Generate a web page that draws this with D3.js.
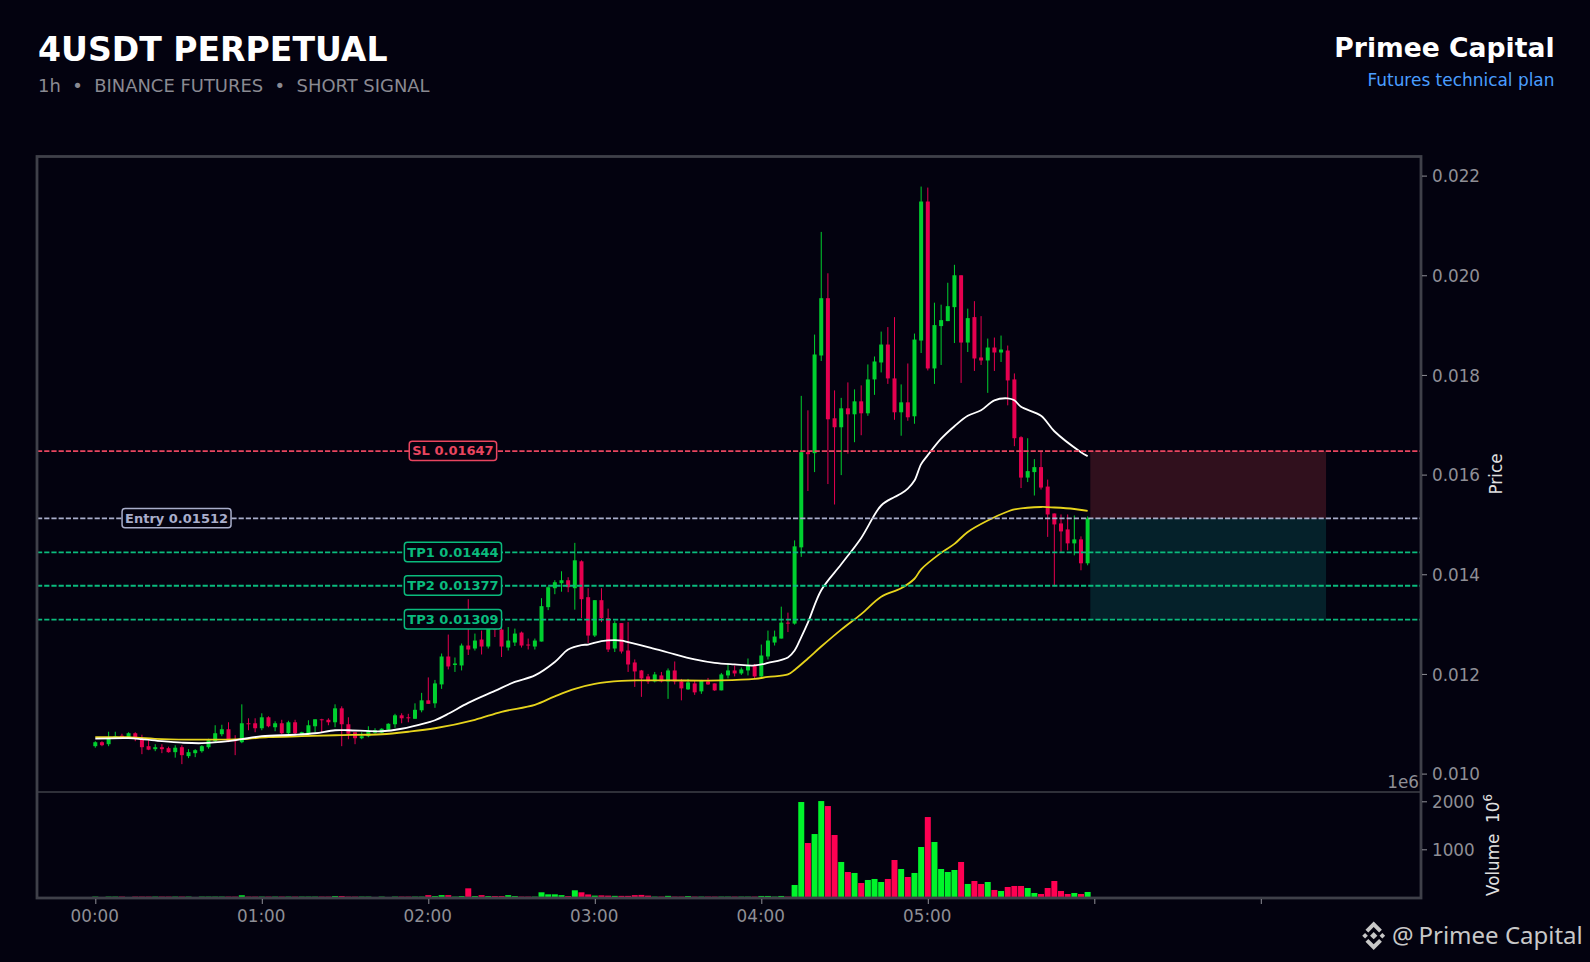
<!DOCTYPE html>
<html>
<head>
<meta charset="utf-8">
<script src="https://cdn.jsdelivr.net/npm/d3@7"></script>
<style>
  html, body { margin: 0; padding: 0; background: #03020f; }
  svg { display: block; }
  text { font-family: "DejaVu Sans", sans-serif; }
</style>
</head>
<body>
<div id="plot"></div>
<script>
// prices are kept in thousandths of USDT, the axis formats them back
var opens = [10.55,10.63,10.59,10.70,10.76,10.73,10.81,10.70,10.55,10.49,
  10.53,10.51,10.43,10.53,10.35,10.41,10.45,10.53,10.65,10.79,
  10.89,10.67,10.63,11.01,11.01,10.91,11.13,10.93,11.01,10.81,
  11.03,10.79,10.79,10.95,11.09,11.08,11.03,11.31,10.99,10.83,
  10.71,10.75,10.82,10.82,10.88,10.99,11.17,11.13,11.10,11.27,
  11.47,11.41,11.79,12.35,12.18,12.17,12.57,12.51,12.69,12.55,
  12.97,12.89,12.53,12.63,12.83,12.59,12.55,12.65,13.34,13.72,
  13.82,13.88,13.72,14.26,13.54,12.77,13.48,13.12,12.51,13.02,
  12.47,12.23,12.07,11.95,11.85,11.97,11.85,12.07,11.85,11.69,
  11.81,11.65,11.85,11.81,11.67,11.97,12.07,12.01,12.07,12.17,
  11.95,12.35,12.63,12.71,13.03,13.01,14.54,16.45,16.43,18.39,
  19.54,17.13,16.95,17.33,17.21,17.47,17.23,17.91,18.25,18.61,
  17.93,17.25,17.45,17.17,18.69,21.48,18.13,18.98,19.08,19.36,
  20.00,18.65,19.16,18.35,18.29,18.55,18.45,18.49,17.91,16.75,
  15.94,16.05,16.15,15.76,15.22,15.02,14.90,14.62,14.70,14.22];

var highs = [10.65,10.65,10.84,10.84,10.80,10.83,10.83,10.78,10.67,10.59,
  10.59,10.54,10.57,10.57,10.49,10.49,10.57,10.70,10.97,10.98,
  11.03,10.77,11.39,11.11,11.11,11.21,11.15,11.05,11.08,11.06,
  11.08,10.84,11.07,11.09,11.10,11.11,11.39,11.35,11.13,10.83,
  10.83,10.95,10.91,10.91,11.01,11.20,11.21,11.20,11.41,11.62,
  11.93,11.88,12.41,12.79,12.33,12.61,13.50,12.81,12.87,13.08,
  13.04,13.01,12.94,12.91,12.85,12.71,12.71,13.52,13.76,13.88,
  14.06,13.94,14.63,14.28,13.72,13.48,13.72,13.31,13.06,13.02,
  13.04,12.29,12.08,12.00,12.04,12.04,12.11,12.25,11.90,11.90,
  11.87,11.88,11.92,11.81,12.02,12.22,12.17,12.13,12.31,12.20,
  12.59,12.87,12.87,13.35,13.23,14.68,17.58,17.29,18.81,20.87,
  20.04,17.69,17.54,17.85,17.71,17.79,18.21,18.37,18.87,18.96,
  19.16,17.81,18.23,18.83,21.78,21.76,19.45,19.41,19.85,20.21,
  20.00,19.33,19.48,19.18,18.73,18.75,18.79,18.59,18.03,16.77,
  16.73,16.31,16.47,15.90,15.22,15.20,15.20,15.18,14.76,15.16];

var lows = [10.52,10.55,10.55,10.70,10.70,10.70,10.65,10.39,10.47,10.45,
  10.41,10.42,10.32,10.19,10.31,10.33,10.42,10.50,10.63,10.75,
  10.63,10.37,10.61,10.87,10.83,10.87,10.93,10.85,10.79,10.77,
  10.79,10.77,10.77,10.83,10.83,10.97,10.93,10.55,10.69,10.59,
  10.69,10.73,10.80,10.81,10.87,10.92,11.01,11.03,11.10,11.23,
  11.40,11.32,11.70,12.09,12.04,12.07,12.38,12.47,12.39,12.51,
  12.74,12.34,12.47,12.56,12.53,12.49,12.49,12.65,13.28,13.60,
  13.65,13.64,13.29,13.12,12.62,12.74,13.04,12.44,12.44,12.41,
  12.04,11.74,11.54,11.80,11.83,11.83,11.50,11.79,11.47,11.68,
  11.58,11.60,11.78,11.66,11.67,11.91,11.95,11.98,11.97,11.91,
  11.91,12.29,12.57,12.71,12.84,12.99,14.35,15.67,16.05,18.28,
  15.81,15.40,15.99,16.42,16.65,16.79,17.18,17.60,18.05,17.82,
  17.10,16.78,17.08,17.02,18.44,18.09,17.82,18.20,19.08,18.64,
  17.84,18.46,18.08,18.20,17.64,18.08,18.26,17.39,16.57,15.73,
  15.85,15.58,15.70,14.75,13.76,14.44,14.48,14.38,14.08,14.18];

var closes = [10.63,10.57,10.70,10.75,10.71,10.81,10.73,10.53,10.48,10.53,
  10.49,10.43,10.52,10.37,10.43,10.47,10.55,10.67,10.81,10.89,
  10.65,10.65,11.01,10.99,10.91,11.13,10.95,11.01,10.81,11.03,
  10.81,10.83,10.97,11.09,11.07,11.03,11.31,10.99,10.80,10.71,
  10.75,10.86,10.87,10.90,11.00,11.17,11.11,11.11,11.28,11.47,
  11.40,11.81,12.35,12.15,12.21,12.57,12.49,12.67,12.55,12.94,
  12.89,12.55,12.67,12.81,12.57,12.57,12.67,13.36,13.74,13.84,
  13.88,13.74,14.28,13.50,12.77,13.48,13.12,12.49,13.02,12.45,
  12.19,12.05,11.91,11.85,11.99,11.85,12.07,11.85,11.71,11.83,
  11.63,11.86,11.79,11.67,11.99,12.07,12.01,12.09,12.17,11.95,
  12.37,12.67,12.75,13.03,13.01,14.56,16.45,16.41,18.41,19.54,
  17.11,16.95,17.33,17.21,17.47,17.23,17.91,18.27,18.61,17.93,
  17.25,17.45,17.15,18.71,21.48,18.13,19.00,19.10,19.38,20.00,
  18.65,19.14,18.33,18.29,18.55,18.45,18.51,17.89,16.73,15.94,
  16.07,16.15,15.74,15.20,15.00,14.86,14.62,14.70,14.22,15.12];

// volume, in millions
var volumes = [14,5,14,14,14,5,14,14,14,14,
  14,14,14,14,14,5,14,14,14,14,
  14,14,42,14,14,14,14,14,14,14,
  14,14,14,14,14,14,25,25,14,14,
  14,14,5,14,5,14,14,14,14,14,
  45,25,45,45,14,25,187,25,45,25,
  25,25,45,25,14,14,14,104,62,62,
  45,25,146,104,60,35,40,35,30,30,
  30,45,50,35,14,14,30,14,14,25,
  14,14,14,14,14,14,14,14,14,14,
  28,28,14,28,14,257,1985,1131,1318,2005,
  1901,1298,736,527,507,298,361,382,319,382,
  777,590,423,507,1048,1672,1152,590,527,569,
  736,278,340,278,319,153,132,215,236,236,
  194,90,69,194,340,132,69,90,69,111];

var whiteIdx = [0,5,7,10,13,16,20,22,25,30,33,36,38,43,46,50,51,53,56,60,63,66,69,71,73,74,76,78,79,80,83,86,90,93,96,99,101,104,105,106,107,109,112,115,118,120,121,122,123,124,125,127,129,131,133,135,137,138,139,142,144,148,149];
var whiteVals = [10.70,10.71,10.69,10.65,10.62,10.61,10.65,10.69,10.75,10.78,10.81,10.87,10.87,10.85,10.90,11.03,11.07,11.20,11.42,11.66,11.84,11.97,12.24,12.49,12.58,12.59,12.66,12.68,12.67,12.64,12.54,12.43,12.29,12.22,12.19,12.17,12.22,12.33,12.47,12.74,13.03,13.68,14.20,14.73,15.38,15.55,15.62,15.72,15.88,16.21,16.39,16.72,16.97,17.18,17.29,17.49,17.53,17.49,17.36,17.18,16.87,16.45,16.37];

var yellowIdx = [0,5,10,16,22,26,31,36,43,47,51,57,61,66,69,72,75,79,82,86,94,99,101,104,105,107,109,112,115,118,121,123,124,127,129,131,134,137,138,142,144,147,149];
var yellowVals = [10.73,10.73,10.69,10.68,10.69,10.73,10.75,10.77,10.79,10.84,10.91,11.08,11.24,11.38,11.55,11.70,11.80,11.86,11.87,11.87,11.87,11.90,11.94,11.99,12.08,12.31,12.55,12.89,13.20,13.55,13.72,13.91,14.10,14.43,14.61,14.85,15.08,15.26,15.30,15.35,15.34,15.31,15.27];

var levelNames = ["SL", "Entry", "TP1", "TP2", "TP3"];
var levelPrices = [16.47, 15.12, 14.44, 13.77, 13.09];
var levelColors = ["#e8455f", "#a9aecb", "#0abb7d", "#0abb7d", "#0abb7d"];
var levelLabelIdx = [53.7, 12.2, 53.7, 53.7, 53.7];

var priceTicks = [10, 12, 14, 16, 18, 20, 22];
var volumeTicks = [1000, 2000];
var timeTicks = [0, 25, 50, 75, 100, 125, 150, 175];
var timeLabels = ["00:00", "01:00", "02:00", "03:00", "04:00", "05:00", "", ""];

var bg = "#03020f", spine = "#3f4049", tickGrey = "#8f8f96";

var panel = {left: 37, right: 1421, top: 156.5, split: 792, bottom: 898};

var svg = d3.select("div#plot")
  .append("svg")
    .attr("width", 1590)
    .attr("height", 962);

var x = d3.scaleLinear().domain([0, 175]).range([95.3, 1260.8]);
var y = d3.scaleLinear().domain([10, 22]).range([773.6, 175.6]);
var yVol = d3.scaleLinear().domain([0, 2000]).range([897.3, 801.3]);

// risk / reward boxes right of the last candle
var boxStart = 149.4, boxEnd = 184.8;
svg.append("rect")
  .attr("x", x(boxStart)).attr("width", x(boxEnd) - x(boxStart))
  .attr("y", y(levelPrices[0])).attr("height", y(levelPrices[1]) - y(levelPrices[0]))
  .attr("fill", "#ff5560").attr("opacity", 0.18);
svg.append("rect")
  .attr("x", x(boxStart)).attr("width", x(boxEnd) - x(boxStart))
  .attr("y", y(levelPrices[1])).attr("height", y(levelPrices[4]) - y(levelPrices[1]))
  .attr("fill", "#18e6d7").attr("opacity", 0.14);

// candles
var candles = d3.range(opens.length);
var upCol = "#00d02f", downCol = "#e6004f";
function candleCol(i) { return closes[i] >= opens[i] ? upCol : downCol; }

svg.selectAll(".wick")
  .data(candles)
  .enter().append("line")
  .attr("class", "wick")
  .attr("x1", function(i) { return x(i); })
  .attr("x2", function(i) { return x(i); })
  .attr("y1", function(i) { return y(highs[i]); })
  .attr("y2", function(i) { return y(lows[i]); })
  .attr("stroke", candleCol)
  .attr("stroke-width", 1);

svg.selectAll(".body")
  .data(candles)
  .enter().append("rect")
  .attr("class", "body")
  .attr("x", function(i) { return x(i) - 2; })
  .attr("width", 4)
  .attr("y", function(i) { return y(Math.max(opens[i], closes[i])); })
  .attr("height", function(i) { return Math.max(1, Math.abs(y(opens[i]) - y(closes[i]))); })
  .attr("fill", candleCol);

// volume bars
svg.selectAll(".vol")
  .data(candles)
  .enter().append("rect")
  .attr("class", "vol")
  .attr("x", function(i) { return x(i) - 3; })
  .attr("width", 6)
  .attr("y", function(i) { return yVol(volumes[i]); })
  .attr("height", function(i) { return yVol(0) - yVol(volumes[i]); })
  .attr("fill", function(i) { return closes[i] >= opens[i] ? "#00f52b" : "#ff0052"; });

// moving averages
var maLine = d3.line()
  .curve(d3.curveCatmullRom.alpha(0.5))
  .x(function(d) { return x(d[0]); })
  .y(function(d) { return y(d[1]); });

svg.append("path")
  .attr("d", maLine(yellowIdx.map(function(d, i) { return [d, yellowVals[i]]; })))
  .attr("fill", "none").attr("stroke", "#e6d31c").attr("stroke-width", 1.8);
svg.append("path")
  .attr("d", maLine(whiteIdx.map(function(d, i) { return [d, whiteVals[i]]; })))
  .attr("fill", "none").attr("stroke", "#ffffff").attr("stroke-width", 1.8);

// level lines and their tags
levelPrices.forEach(function(p, k) {
  svg.append("line")
    .attr("x1", panel.left).attr("x2", panel.right)
    .attr("y1", y(p)).attr("y2", y(p))
    .attr("stroke", levelColors[k])
    .attr("stroke-width", 1.8)
    .attr("stroke-dasharray", "5.2,2");
});
levelPrices.forEach(function(p, k) {
  var g = svg.append("g");
  var box = g.append("rect");
  var t = g.append("text")
    .attr("x", x(levelLabelIdx[k]))
    .attr("y", y(p) + 4.2)
    .attr("text-anchor", "middle")
    .attr("font-size", 13)
    .attr("font-weight", "bold")
    .attr("fill", levelColors[k])
    .text(levelNames[k] + " " + (p / 1000).toFixed(5));
  var b = t.node().getBBox();
  box.attr("x", b.x - 3).attr("width", b.width + 6)
    .attr("y", y(p) - 10).attr("height", 19.4)
    .attr("rx", 3)
    .attr("fill", bg)
    .attr("stroke", levelColors[k])
    .attr("stroke-width", 1.5);
});

// frame
svg.append("rect")
  .attr("x", panel.left).attr("y", panel.top)
  .attr("width", panel.right - panel.left).attr("height", panel.bottom - panel.top)
  .attr("fill", "none").attr("stroke", spine).attr("stroke-width", 2.8);
svg.append("line")
  .attr("x1", panel.left).attr("x2", panel.right)
  .attr("y1", panel.split).attr("y2", panel.split)
  .attr("stroke", spine).attr("stroke-width", 1.6);

// axes
function styleAxis(g) {
  g.select(".domain").remove();
  g.selectAll("line").attr("stroke", tickGrey).attr("stroke-width", 1);
  g.selectAll("text")
    .attr("fill", tickGrey)
    .style("font-size", "16.8px")
    .style("font-family", '"DejaVu Sans", sans-serif');
}

svg.append("g")
  .attr("transform", "translate(" + (panel.right + 1) + ",0)")
  .call(d3.axisRight(y).tickValues(priceTicks).tickSize(5).tickPadding(5)
    .tickFormat(function(d) { return (d / 1000).toFixed(3); }))
  .call(styleAxis)
  .selectAll("text").attr("dy", "0.38em");

svg.append("g")
  .attr("transform", "translate(" + (panel.right + 1) + ",0)")
  .call(d3.axisRight(yVol).tickValues(volumeTicks).tickSize(5).tickPadding(5)
    .tickFormat(d3.format("d")))
  .call(styleAxis)
  .selectAll("text").attr("dy", "0.38em");

svg.append("g")
  .attr("transform", "translate(0," + (panel.bottom + 1) + ")")
  .call(d3.axisBottom(x).tickValues(timeTicks).tickSize(5).tickPadding(6)
    .tickFormat(function(d, i) { return timeLabels[i]; }))
  .call(styleAxis)
  .selectAll("text").attr("dx", -1);

svg.append("text")
  .attr("x", 1419).attr("y", 788)
  .attr("text-anchor", "end")
  .attr("font-size", 16.8)
  .attr("fill", tickGrey)
  .text("1e6");

svg.append("text")
  .attr("transform", "translate(1501.5,474) rotate(-90)")
  .attr("text-anchor", "middle")
  .attr("font-size", 16.8)
  .attr("fill", "#e0e0e0")
  .text("Price");

var volLabel = svg.append("text")
  .attr("transform", "translate(1498.5,896) rotate(-90)")
  .attr("font-size", 16.8)
  .attr("fill", "#e0e0e0")
  .style("white-space", "pre");
volLabel.append("tspan").text("Volume  10");
volLabel.append("tspan").attr("dy", -7).attr("font-size", 11.8).text("6");

// header
svg.append("text")
  .attr("x", 38).attr("y", 61)
  .attr("font-size", 33.1).attr("font-weight", "bold")
  .attr("fill", "#ffffff")
  .text("4USDT PERPETUAL");

svg.append("text")
  .attr("x", 38).attr("y", 92)
  .attr("font-size", 17.96)
  .attr("fill", "#8a8a92")
  .style("white-space", "pre")
  .text("1h  \u2022  BINANCE FUTURES  \u2022  SHORT SIGNAL");

svg.append("text")
  .attr("x", 1554.5).attr("y", 56.5)
  .attr("text-anchor", "end")
  .attr("font-size", 26.6).attr("font-weight", "bold")
  .attr("fill", "#ffffff")
  .text("Primee Capital");

svg.append("text")
  .attr("x", 1554.5).attr("y", 86)
  .attr("text-anchor", "end")
  .attr("font-size", 16.95)
  .attr("fill", "#4a9eff")
  .text("Futures technical plan");

// watermark with the exchange mark
var logo = svg.append("g")
  .attr("transform", "translate(1373.7,935.7) scale(1.08)")
  .attr("fill", "#c8c8c8");
logo.append("path").attr("d", "M0,-3.4L3.4,0L0,3.4L-3.4,0Z");
logo.append("path").attr("d", "M-10.6,0L-8,-2.6L-5.4,0L-8,2.6Z");
logo.append("path").attr("d", "M10.6,0L8,-2.6L5.4,0L8,2.6Z");
logo.append("path").attr("d", "M0,-13.2L7.6,-5.6L5,-3L0,-8L-5,-3L-7.6,-5.6Z");
logo.append("path").attr("d", "M0,13.2L7.6,5.6L5,3L0,8L-5,3L-7.6,5.6Z");

svg.append("text")
  .attr("x", 1392).attr("y", 944)
  .attr("font-size", 24)
  .attr("fill", "#c8c8c8")
  .style("font-family", '"Noto Sans", sans-serif')
  .text("@");

svg.append("text")
  .attr("x", 1418.5).attr("y", 944)
  .attr("font-size", 24)
  .attr("fill", "#c8c8c8")
  .style("font-family", '"Noto Sans", sans-serif')
  .text("Primee Capital");
</script>
</body>
</html>
